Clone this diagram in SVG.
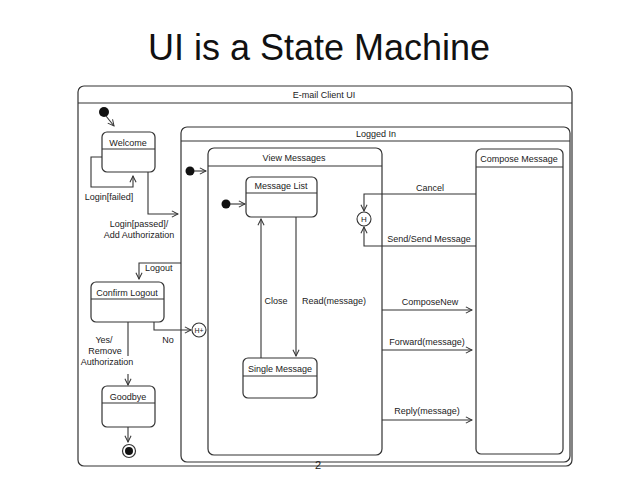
<svg xmlns="http://www.w3.org/2000/svg" width="638" height="479" viewBox="0 0 638 479">
<defs>
<style>
.b{fill:none;stroke:#333;stroke-width:1.2}
.t{font-family:"Liberation Sans",Arial,sans-serif;font-size:9px;fill:#222}
.m{text-anchor:middle}
.c{fill:none;stroke:#333;stroke-width:1.1}
</style>
<marker id="a" viewBox="0 0 10 10" refX="9" refY="5" markerWidth="7" markerHeight="7" orient="auto"><path d="M1,1 L9,5 L1,9" fill="none" stroke="#333" stroke-width="1.3"/></marker>
</defs>
<rect width="638" height="479" fill="#fff"/>
<text x="319" y="60" class="m" style="font-family:'Liberation Sans',Arial,sans-serif;font-size:36px;fill:#111">UI is a State Machine</text>
<g id="emailClient"><rect x="78" y="86" width="494" height="380" rx="6" class="b"/><line x1="78" y1="103" x2="572" y2="103" class="b"/><text x="324" y="98" class="t m">E-mail Client UI</text></g>
<g id="loggedIn"><rect x="181" y="127" width="389" height="335" rx="6" class="b"/><line x1="181" y1="141" x2="570" y2="141" class="b"/><text x="376" y="137" class="t m">Logged In</text></g>
<g id="viewMessages"><rect x="208" y="148" width="174" height="307" rx="6" class="b"/><line x1="208" y1="166" x2="382" y2="166" class="b"/><text x="294" y="161" class="t m">View Messages</text></g>
<g id="composeMessage"><rect x="476" y="149" width="87" height="305" rx="5" class="b"/><line x1="476" y1="167" x2="563" y2="167" class="b"/><text x="519" y="162" class="t m">Compose Message</text></g>
<g id="messageList"><rect x="246" y="177" width="71" height="40" rx="5" class="b"/><line x1="246" y1="193" x2="317" y2="193" class="b"/><text x="281" y="189" class="t m">Message List</text></g>
<g id="singleMessage"><rect x="243" y="358" width="74" height="40" rx="5" class="b"/><line x1="243" y1="376" x2="317" y2="376" class="b"/><text x="280" y="372" class="t m">Single Message</text></g>
<g id="welcome"><rect x="102" y="132" width="53" height="40" rx="5" class="b"/><line x1="102" y1="149" x2="155" y2="149" class="b"/><text x="128" y="146" class="t m">Welcome</text></g>
<g id="confirmLogout"><rect x="91" y="282" width="73" height="40" rx="5" class="b"/><line x1="91" y1="299" x2="164" y2="299" class="b"/><text x="127" y="296" class="t m">Confirm Logout</text></g>
<g id="goodbye"><rect x="102" y="386" width="53" height="41" rx="5" class="b"/><line x1="102" y1="403" x2="155" y2="403" class="b"/><text x="128" y="400" class="t m">Goodbye</text></g>
<g id="initial1"><circle cx="104" cy="112" r="5" fill="#111"/></g>
<g id="final"><circle cx="129" cy="451" r="6.5" fill="none" stroke="#333" stroke-width="1.2"/><circle cx="129" cy="451" r="4" fill="#111"/></g>
<g id="initial2"><circle cx="190" cy="171" r="4.5" fill="#111"/></g>
<g id="initial3"><circle cx="226" cy="204" r="4.5" fill="#111"/></g>
<g id="historyDeep"><circle cx="199" cy="330" r="7" fill="#fff" stroke="#333" stroke-width="1.1"/><text x="199" y="333" class="t m" style="font-size:7px">H+</text></g>
<g id="history"><circle cx="364" cy="219" r="7" fill="#fff" stroke="#333" stroke-width="1.1"/><text x="364" y="222" class="t m" style="font-size:8px">H</text></g>
<g id="connectors">
<path d="M106,116 L114,126" class="c" marker-end="url(#a)"/>
<path d="M102,157 H91 V187 H133 V176" class="c" marker-end="url(#a)"/>
<path d="M148,172 V214 H178" class="c" marker-end="url(#a)"/>
<path d="M181,263 H139 V279" class="c" marker-end="url(#a)"/>
<path d="M154,322 V330 H191" class="c" marker-end="url(#a)"/>
<path d="M128,322 V356" class="c"/>
<path d="M128,374 V385" class="c" marker-end="url(#a)"/>
<path d="M128,427 V442" class="c" marker-end="url(#a)"/>
<path d="M194,171 H206" class="c" marker-end="url(#a)"/>
<path d="M230,204 H245" class="c" marker-end="url(#a)"/>
<path d="M261,358 V219" class="c" marker-end="url(#a)"/>
<path d="M296,217 V356" class="c" marker-end="url(#a)"/>
<path d="M476,194 H364 V211" class="c" marker-end="url(#a)"/>
<path d="M476,246 H364 V227" class="c" marker-end="url(#a)"/>
<path d="M382,310 H472" class="c" marker-end="url(#a)"/>
<path d="M382,350 H472" class="c" marker-end="url(#a)"/>
<path d="M382,420 H472" class="c" marker-end="url(#a)"/>
</g>
<g class="t">
<text x="109" y="200" class="m">Login[failed]</text>
<text x="139" y="227" class="m">Login[passed]/</text>
<text x="139" y="238" class="m">Add Authorization</text>
<text x="145" y="271">Logout</text>
<text x="168" y="343" class="m">No</text>
<text x="104" y="343" class="m">Yes/</text>
<text x="105" y="354" class="m">Remove</text>
<text x="107" y="365" class="m">Authorization</text>
<text x="276" y="304" class="m">Close</text>
<text x="334" y="304" class="m">Read(message)</text>
<text x="430" y="191" class="m">Cancel</text>
<text x="429" y="242" class="m">Send/Send Message</text>
<text x="430" y="305" class="m">ComposeNew</text>
<text x="427" y="345" class="m">Forward(message)</text>
<text x="427" y="414" class="m">Reply(message)</text>
<text x="318" y="469" class="m" style="font-size:11px">2</text>
</g>
</svg>
